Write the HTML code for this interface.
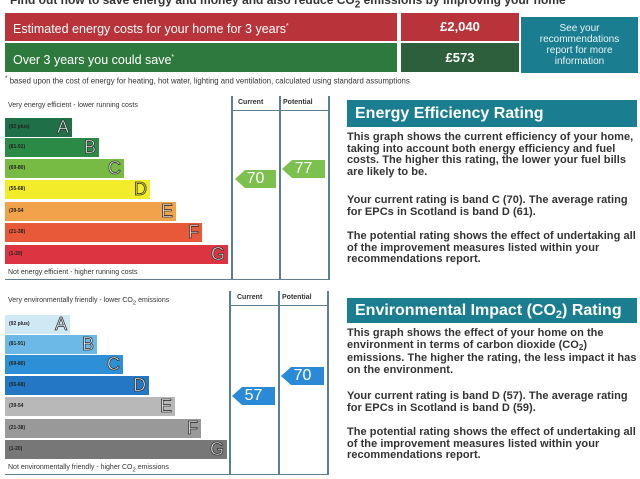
<!DOCTYPE html>
<html><head><meta charset="utf-8"><style>
*{margin:0;padding:0;box-sizing:border-box}
body{width:640px;height:479px;background:#fff;position:relative;overflow:hidden;font-family:"Liberation Sans",Arial,sans-serif;color:#333}
.a{position:absolute}
.bar{position:absolute;left:5px;height:19px;font-size:5px;font-weight:bold;color:#222;padding-left:4px;line-height:19px}
.bar b{position:absolute;right:3px;top:0;font-size:18px;font-weight:normal;color:#fff;-webkit-text-stroke:0.8px #333;line-height:19px}
.vl{position:absolute;width:2px;background:#5a7e94}
.hl{position:absolute;height:1px;background:#5a7e94}
.p{position:absolute;left:347px;width:292px;font-size:11px;font-weight:bold;line-height:11.7px;color:#333;white-space:nowrap;letter-spacing:0.05px}
.hd{position:absolute;left:347px;width:290px;background:#1b7d90;color:#fff;font-size:16px;font-weight:bold;padding-left:8px}
.arr{position:absolute;height:18px;font-size:16px;color:#fff;text-align:center;line-height:18px;clip-path:polygon(0 50%,10px 0,100% 0,100% 100%,10px 100%)}
.sm{font-size:7px;position:absolute;color:#333}
</style></head><body>
<div class="a" style="left:10px;top:-7px;font-size:12px;font-weight:bold;color:#333">Find out how to save energy and money and also reduce CO<sub>2</sub> emissions by improving your home</div>
<div class="a" style="left:5px;top:13px;width:392px;height:28px;background:#b8343a;color:#fff;font-size:12.5px;line-height:28px;padding-left:8px">Estimated energy costs for your home for 3 years<sup style="font-size:7px">*</sup></div>
<div class="a" style="left:401px;top:13px;width:118px;height:28px;background:#b8343a;color:#fff;font-size:13px;font-weight:bold;line-height:28px;text-align:center">£2,040</div>
<div class="a" style="left:5px;top:43px;width:392px;height:29px;background:#2e7a3e;color:#fff;font-size:12.5px;line-height:29px;padding-left:8px">Over 3 years you could save<sup style="font-size:7px">*</sup></div>
<div class="a" style="left:401px;top:43px;width:118px;height:29px;background:#2e5f3c;color:#fff;font-size:13px;font-weight:bold;line-height:29px;text-align:center">£573</div>
<div class="a" style="left:521px;top:17px;width:117px;height:56px;background:#1b7d90;color:#e8f4f6;font-size:10px;line-height:11px;text-align:center;padding-top:6px">See your<br>recommendations<br>report for more<br>information</div>
<div class="a" style="left:5px;top:75px;font-size:7.8px;color:#333"><sup>*</sup> based upon the cost of energy for heating, hot water, lighting and ventilation, calculated using standard assumptions</div>

<div class="sm" style="left:8px;top:102px">Very energy efficient - lower running costs</div>
<div class="sm" style="left:238px;top:99px;font-weight:bold">Current</div>
<div class="sm" style="left:283px;top:99px;font-weight:bold">Potential</div>
<div class="vl" style="left:231px;top:96px;height:184px"></div>
<div class="vl" style="left:279px;top:96px;height:184px"></div>
<div class="vl" style="left:328px;top:96px;height:184px"></div>
<div class="hl" style="left:231px;top:110px;width:98px"></div>
<div class="hl" style="left:5px;top:279px;width:324px"></div>
<div class="bar" style="top:118px;width:67px;background:#1f7048">(92 plus)<b>A</b></div>
<div class="bar" style="top:138px;width:94px;background:#2a8a46">(81-91)<b>B</b></div>
<div class="bar" style="top:159px;width:119px;background:#77bb44">(69-80)<b>C</b></div>
<div class="bar" style="top:180px;width:145px;background:#f2ec2a">(55-68)<b style="color:#f2ec2a">D</b></div>
<div class="bar" style="top:202px;width:171px;background:#f2a24a">(39-54<b>E</b></div>
<div class="bar" style="top:223px;width:197px;background:#e8593a">(21-38)<b>F</b></div>
<div class="bar" style="top:245px;width:223px;background:#dc3440">(1-20)<b>G</b></div>
<div class="sm" style="left:8px;top:269px">Not energy efficient - higher running costs</div>
<div class="arr" style="left:235px;top:170px;width:41px;background:#7cc04e">70</div>
<div class="arr" style="left:282px;top:160px;width:43px;background:#7cc04e">77</div>

<div class="sm" style="left:8px;top:297px">Very environmentally friendly - lower CO<sub>2</sub> emissions</div>
<div class="sm" style="left:237px;top:294px;font-weight:bold">Current</div>
<div class="sm" style="left:282px;top:294px;font-weight:bold">Potential</div>
<div class="vl" style="left:229px;top:291px;height:184px"></div>
<div class="vl" style="left:278px;top:291px;height:184px"></div>
<div class="vl" style="left:327px;top:291px;height:184px"></div>
<div class="hl" style="left:229px;top:305px;width:100px"></div>
<div class="hl" style="left:5px;top:474px;width:324px"></div>
<div class="bar" style="top:315px;width:65px;background:#cfe9f4">(92 plus)<b>A</b></div>
<div class="bar" style="top:335px;width:92px;background:#6cb8e6">(81-91)<b>B</b></div>
<div class="bar" style="top:355px;width:118px;background:#2d8fd6">(69-80)<b>C</b></div>
<div class="bar" style="top:376px;width:144px;background:#2377c4">(55-68)<b>D</b></div>
<div class="bar" style="top:397px;width:170px;background:#b8b8b8">(39-54<b>E</b></div>
<div class="bar" style="top:419px;width:196px;background:#999">(21-38)<b>F</b></div>
<div class="bar" style="top:440px;width:222px;background:#777">(1-20)<b>G</b></div>
<div class="sm" style="left:8px;top:464px">Not environmentally friendly - higher CO<sub>2</sub> emissions</div>
<div class="arr" style="left:232px;top:387px;width:43px;background:#2a8ad8">57</div>
<div class="arr" style="left:281px;top:367px;width:43px;background:#2a8ad8">70</div>

<div class="hd" style="top:100px;height:27px;line-height:27px">Energy Efficiency Rating</div>
<div class="p" style="top:132px">This graph shows the current efficiency of your home,<br>taking into account both energy efficiency and fuel<br>costs. The higher this rating, the lower your fuel bills<br>are likely to be.</div>
<div class="p" style="top:195px">Your current rating is band C (70). The average rating<br>for EPCs in Scotland is band D (61).</div>
<div class="p" style="top:231px">The potential rating shows the effect of undertaking all<br>of the improvement measures listed within your<br>recommendations report.</div>

<div class="hd" style="top:298px;height:25px;line-height:25px">Environmental Impact (CO<span style="font-size:11px;vertical-align:-3px">2</span>) Rating</div>
<div class="p" style="top:328px">This graph shows the effect of your home on the<br>environment in terms of carbon dioxide (CO<span style="font-size:8px;vertical-align:-2px">2</span>)<br>emissions. The higher the rating, the less impact it has<br>on the environment.</div>
<div class="p" style="top:391px">Your current rating is band D (57). The average rating<br>for EPCs in Scotland is band D (59).</div>
<div class="p" style="top:427px">The potential rating shows the effect of undertaking all<br>of the improvement measures listed within your<br>recommendations report.</div>
</body></html>
